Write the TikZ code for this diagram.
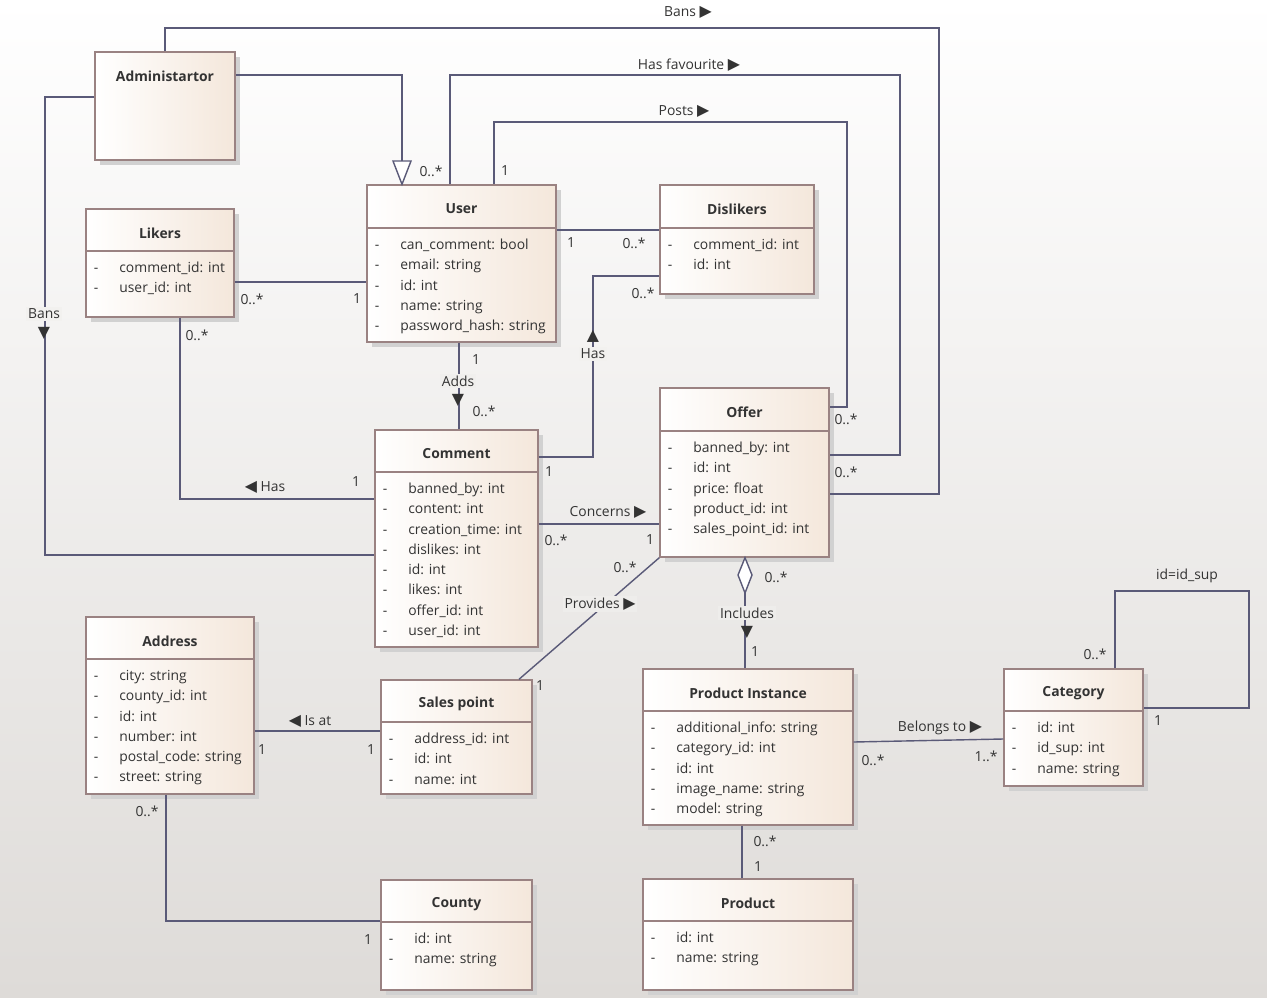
\documentclass[tikz,border=0pt]{standalone}
\usepackage{fontspec}
\setmainfont{Open Sans}
\newfontfamily\symf{DejaVu Sans}
\definecolor{bgbot}{HTML}{DEDBD8}
\definecolor{clsfill}{HTML}{F4E7DB}
\definecolor{clsedge}{HTML}{9A8282}
\definecolor{connc}{HTML}{5A5A78}
\definecolor{txt}{HTML}{333333}
\tikzset{
  cls/.style={draw=clsedge, line width=0.8pt, left color=white, right color=clsfill, inner sep=0pt},
  shadow/.style={fill=black!18},
  ttl/.style={font=\fontsize{7.9}{9}\selectfont\bfseries, text=txt},
  attr/.style={font=\fontsize{7.9}{9}\selectfont, text=txt, inner sep=0pt, text height=1.6ex, text depth=0.45ex},
  lbl/.style={font=\fontsize{7.9}{9}\selectfont, text=txt, inner sep=1pt},
  conn/.style={draw=connc, line width=0.8pt},
}
% class box: name, x1, y1, x2, y2, title
\newcommand\umlcls[6]{%
  \fill[shadow] (#2+5,#3+5) rectangle (#4+5,#5+5);
  \node[cls, minimum width={(#4-#2)*0.02cm}, minimum height={(#5-#3)*0.02cm}] (#1) at ({(#2+#4)/2},{(#3+#5)/2}) {};
  \node[ttl] at ({(#2+#4)/2},#3+24) {#6};}
% attribute list: x1, x2, divider y, list
\newcommand\umlattrs[4]{%
  \draw[clsedge, line width=0.8pt] (#1,#3) -- (#2,#3);
  \foreach \t [count=\i] in {#4} {
    \node[attr] at ({#1+10},{#3+16+(\i-1)*20.3}) {-};
    \node[attr, anchor=west] at ({#1+33},{#3+16+(\i-1)*20.3}) {\t};
  }}
\newcommand\rt{{\symf\fontsize{9}{9}\selectfont\char"25B6}}
\newcommand\lt{{\symf\fontsize{9}{9}\selectfont\char"25C0}}
\newcommand\up{{\symf\fontsize{9}{9}\selectfont\char"25B2}}
\newcommand\dn{{\symf\fontsize{9}{9}\selectfont\char"25BC}}
\begin{document}
\begin{tikzpicture}[x=0.02cm, y=-0.02cm]
  \shade[top color=white, bottom color=bgbot] (0,0) rectangle (1267,997);
  \useasboundingbox (0,0) rectangle (1267,997);

  % classes
  \umlcls{admin}{95}{52}{235}{160}{Administartor}
  \umlcls{user}{367}{185}{556}{342}{User}
  \umlattrs{367}{556}{228}{can\_comment: bool, email: string, id: int, name: string, password\_hash: string}
  \umlcls{likers}{86}{209}{234}{317}{Likers}
  \umlattrs{86}{234}{251}{comment\_id: int, user\_id: int}
  \umlcls{dislikers}{660}{185}{814}{294}{Dislikers}
  \umlattrs{660}{814}{228}{comment\_id: int, id: int}
  \umlcls{offer}{660}{388}{829}{557}{Offer}
  \umlattrs{660}{829}{431}{banned\_by: int, id: int, price: float, product\_id: int, sales\_point\_id: int}
  \umlcls{comment}{375}{430}{538}{647}{Comment}
  \umlattrs{375}{538}{472}{banned\_by: int, content: int, creation\_time: int, dislikes: int, id: int, likes: int, offer\_id: int, user\_id: int}
  \umlcls{address}{86}{617}{254}{794}{Address}
  \umlattrs{86}{254}{659}{city: string, county\_id: int, id: int, number: int, postal\_code: string, street: string}
  \umlcls{salesp}{381}{680}{532}{794}{Sales point}
  \umlattrs{381}{532}{722}{address\_id: int, id: int, name: int}
  \umlcls{pinst}{643}{669}{853}{825}{Product Instance}
  \umlattrs{643}{853}{711}{additional\_info: string, category\_id: int, id: int, image\_name: string, model: string}
  \umlcls{category}{1004}{669}{1143}{786}{Category}
  \umlattrs{1004}{1143}{711}{id: int, id\_sup: int, name: string}
  \umlcls{county}{381}{880}{532}{990}{County}
  \umlattrs{381}{532}{922}{id: int, name: string}
  \umlcls{product}{643}{879}{853}{990}{Product}
  \umlattrs{643}{853}{921}{id: int, name: string}

  % connectors
  \draw[conn] (admin.north) |- (939,28) |- (offer.east |- 0,494);
  \node[lbl] at (688,12) {Bans \rt};
  \draw[conn] (admin.east |- 0,75) -| (402,161);
  \draw[conn, fill=white] (user.north -| 402,0) -- (393,161) -- (411,161) -- cycle;
  \draw[conn] (user.north -| 450,0) |- (900,75) |- (offer.east |- 0,455);
  \node[lbl] at (689,65) {Has favourite \rt};
  \node[lbl] at (431,171) {0..*};
  \node[lbl] at (846,472) {0..*};
  \draw[conn] (user.north -| 494,0) |- (847,122) |- (offer.east |- 0,407);
  \node[lbl] at (684,111) {Posts \rt};
  \node[lbl] at (505,171) {1};
  \node[lbl] at (846,419) {0..*};
  \draw[conn] (user.east |- 0,230) -- (dislikers.west |- 0,230);
  \node[lbl] at (571,243) {1};
  \node[lbl] at (634,243) {0..*};
  \draw[conn] (likers.east |- 0,282) -- (user.west |- 0,282);
  \node[lbl] at (252,299) {0..*};
  \node[lbl] at (357,299) {1};
  \draw[conn] (admin.west |- 0,97) -| (45,555) -- (comment.west |- 0,555);
  \node[lbl, fill=white!60!bgbot] at (44,314) {Bans};
  \node[lbl] at (44,333) {\dn};
  \draw[conn] (user.south -| 459,0) -- (comment.north -| 459,0);
  \node[lbl] at (476,360) {1};
  \node[lbl, fill=white!55!bgbot] at (458,381) {Adds};
  \node[lbl] at (458,400) {\dn};
  \node[lbl] at (484,411) {0..*};
  \draw[conn] (comment.east |- 0,457) -| (593,276) -- (dislikers.west |- 0,276);
  \node[lbl, fill=white!60!bgbot] at (593,354) {Has};
  \node[lbl] at (593,336) {\up};
  \node[lbl] at (549,472) {1};
  \node[lbl] at (643,293) {0..*};
  \draw[conn] (likers.south -| 180,0) |- (comment.west |- 0,499);
  \node[lbl] at (265,487) {\lt\ Has};
  \node[lbl] at (356,482) {1};
  \node[lbl] at (197,335) {0..*};
  \draw[conn] (comment.east |- 0,524) -- (offer.west |- 0,524);
  \node[lbl] at (608,512) {Concerns \rt};
  \node[lbl] at (556,540) {0..*};
  \node[lbl] at (650,540) {1};
  \draw[conn] (salesp.north -| 519,0) -- (offer.south west);
  \node[lbl, fill=white!50!bgbot] at (600,604) {Provides \rt};
  \node[lbl] at (625,567) {0..*};
  \node[lbl] at (540,686) {1};
  \draw[conn, fill=white] (offer.south -| 745,0) -- (752,575) -- (745,593) -- (738,575) -- cycle;
  \draw[conn] (745,593) -- (pinst.north -| 745,0);
  \node[lbl] at (776,577) {0..*};
  \node[lbl, fill=white!50!bgbot] at (747,613) {Includes};
  \node[lbl] at (747,632) {\dn};
  \node[lbl] at (755,652) {1};
  \draw[conn] (address.east |- 0,731) -- (salesp.west |- 0,731);
  \node[lbl] at (310,721) {\lt\ Is at};
  \node[lbl] at (262,750) {1};
  \node[lbl] at (371,750) {1};
  \draw[conn] (address.south -| 166,0) |- (county.west |- 0,921);
  \node[lbl] at (147,811) {0..*};
  \node[lbl] at (368,940) {1};
  \draw[conn] (pinst.east |- 0,742) -- (category.west |- 0,739);
  \node[lbl] at (940,728) {Belongs to \rt};
  \node[lbl] at (873,760) {0..*};
  \node[lbl] at (986,756) {1..*};
  \draw[conn] (category.north -| 1115,0) |- (1249,591) |- (category.east |- 0,708);
  \node[lbl] at (1187,576) {id=id\_sup};
  \node[lbl] at (1095,654) {0..*};
  \node[lbl] at (1158,721) {1};
  \draw[conn] (pinst.south -| 742,0) -- (product.north -| 742,0);
  \node[lbl] at (765,841) {0..*};
  \node[lbl] at (758,867) {1};
\end{tikzpicture}
\end{document}
